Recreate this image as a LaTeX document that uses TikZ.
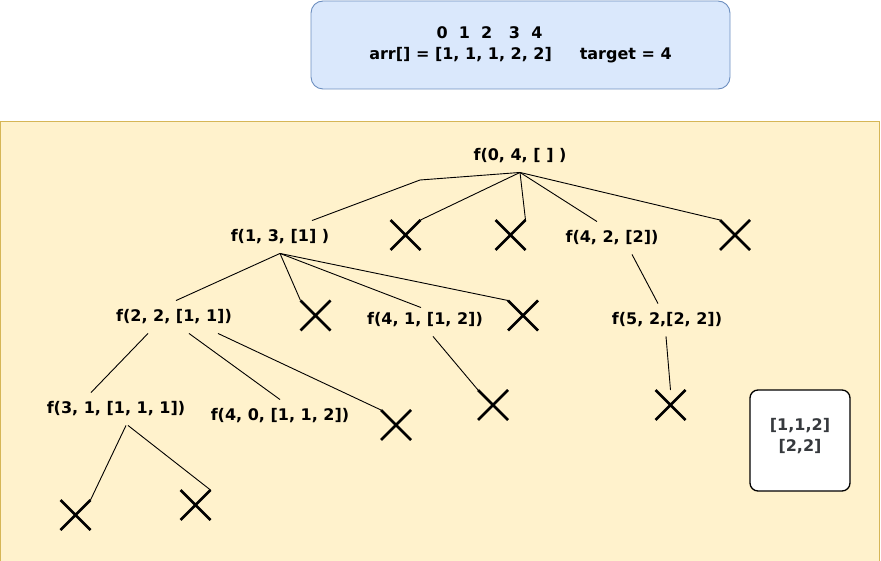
\documentclass[tikz,border=0pt]{standalone}
\usepackage{fontspec}
\setmainfont{DejaVu Sans}
\usetikzlibrary{shapes.misc}
\definecolor{boxblue}{RGB}{218,232,252}
\definecolor{lineblue}{RGB}{108,142,191}
\definecolor{boxyellow}{RGB}{255,242,204}
\definecolor{lineyellow}{RGB}{214,182,86}
\definecolor{resgray}{RGB}{54,57,61}

\begin{document}
\begin{tikzpicture}[x=1pt, y=-1pt, line width=0.9pt,
    font=\fontsize{16}{21}\selectfont\bfseries,
    call/.style={inner xsep=1pt, inner ysep=0pt, minimum height=32pt},
    nope/.style={draw, cross out, minimum size=30pt, inner sep=0pt,
      outer sep=0pt, line width=2.6pt}]
  \useasboundingbox (0,0) rectangle (881,561);
  \draw[fill=boxyellow, draw=lineyellow] (0.5,121) rectangle (879.5,562);
  \node[draw=lineblue, fill=boxblue, rounded corners=12pt, minimum width=419pt,
    minimum height=88pt, align=center] (arr) at (520.5,45)
    {0\ \ 1\ \ 2\ \ \ 3\ \ 4\hspace*{62pt}\\ arr[] = [1, 1, 1, 2, 2]\ \ \ \ \ target = 4};

  % calls
  \node[call] (root) at (520,156) {f(0, 4, [ ] )};
  \node[call] (a) at (280,237) {f(1, 3, [1] )};
  \node[nope] (x1) at (405.5,235) {};
  \node[nope] (x2) at (510.5,235) {};
  \node[call] (b) at (612,238) {f(4, 2, [2])};
  \node[nope] (x3) at (735,235) {};
  \node[call] (aa) at (174,317) {f(2, 2, [1, 1])};
  \node[nope] (x4) at (315.5,315.5) {};
  \node[call] (ab) at (425,320) {f(4, 1, [1, 2])};
  \node[nope] (x5) at (523,315.5) {};
  \node[call] (ba) at (667,320) {f(5, 2,[2, 2])};
  \node[call] (aaa) at (116,409) {f(3, 1, [1, 1, 1])};
  \node[call] (aab) at (280,416) {f(4, 0, [1, 1, 2])};
  \node[nope] (x6) at (396,425) {};
  \node[nope] (x7) at (493,405) {};
  \node[nope] (x8) at (670.5,405) {};
  \node[nope] (x9) at (75.5,515) {};
  \node[nope] (x10) at (195.5,505) {};
  \node[draw=black, line width=1.3pt, fill=white, rounded corners=8pt,
    minimum width=100pt, minimum height=101pt, text depth=12pt, text=resgray,
    align=center] (res) at (800,440.5) {[1,1,2]\\ {[2,2]}};

  % branches
  \coordinate (bend) at (420,180);
  \draw (root.south) -- (bend) -- ([xshift=32pt]a.north);
  \draw (root.south) -- (x1.north east);
  \draw (root.south) -- (x2.north east);
  \draw (root.south) -- ([xshift=-15pt]b.north);
  \draw (root.south) -- (x3.north west);
  \draw (a.south) -- ([xshift=2pt]aa.north);
  \draw (a.south) -- (x4.north west);
  \draw (a.south) -- ([xshift=-4pt,yshift=-4pt]ab.north);
  \draw (a.south) -- (x5.north west);
  \draw ([xshift=-26pt]aa.south) -- ([xshift=-25pt]aaa.north);
  \draw ([xshift=15pt]aa.south) -- (aab.north);
  \draw ([xshift=44pt]aa.south) -- (x6.north west);
  \draw ([xshift=10pt]aaa.south) -- (x9.north east);
  \draw ([xshift=12pt]aaa.south) -- (x10.north east);
  \draw ([xshift=8pt]ab.south) -- (x7.north west);
  \draw ([xshift=20pt]b.south) -- ([xshift=-9pt]ba.north);
  \draw ([xshift=-1pt]ba.south) -- (x8.north);
\end{tikzpicture}
\end{document}
